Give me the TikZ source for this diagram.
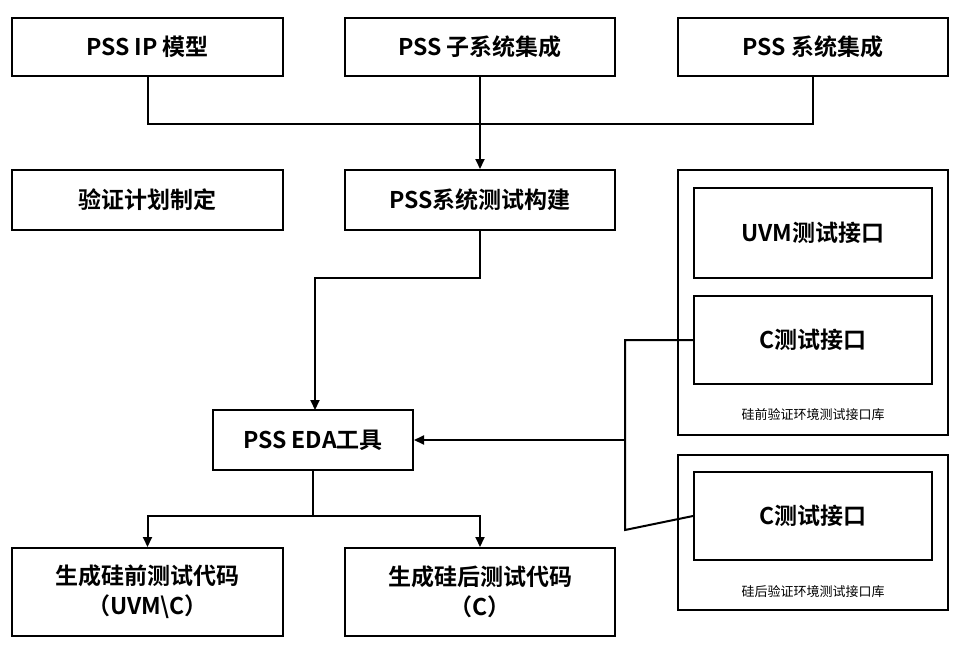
\documentclass[tikz,border=0pt]{standalone}
\usepackage{fontspec}
\setmainfont{Noto Sans CJK SC}[BoldFont={* Bold}]
\usetikzlibrary{arrows.meta}
\begin{document}
\begin{tikzpicture}[x=1pt,y=-1pt,
  box/.style={draw,line width=2pt,inner sep=0pt,align=center,font=\bfseries\fontsize{23}{30}\selectfont},
  lab/.style={font=\fontsize{13}{15}\selectfont,inner sep=0pt},
  ln/.style={line width=2pt},
  ar/.style={ln,-{Triangle[length=10pt,width=9pt]}}]
\useasboundingbox (0,0) rectangle (964,648);
\newcommand\bx[6]{\node[box,minimum width=#4-#2,minimum height=#5-#3] (#1) at ({(#2+#4)/2},{(#3+#5)/2}) {#6};}
\bx{ip}{12}{18}{283}{76}{PSS IP 模型}
\bx{sub}{345}{18}{615}{76}{PSS 子系统集成}
\bx{sys}{678}{18}{948}{76}{PSS 系统集成}
\bx{plan}{12}{170}{283}{230}{验证计划制定}
\bx{build}{345}{170}{615}{230}{PSS系统测试构建}
\bx{o1}{678}{170}{948}{435}{}
\bx{uvm}{694}{188}{932}{278}{UVM测试接口}
\bx{c1}{694}{296}{932}{384}{C测试接口}
\bx{o2}{678}{455}{948}{610}{}
\bx{c2}{694}{472}{932}{560}{C测试接口}
\bx{eda}{213}{410}{413}{470}{PSS EDA工具}
\bx{pre}{12}{548}{283}{636}{生成硅前测试代码\\（UVM\textbackslash C）}
\bx{post}{345}{548}{615}{636}{生成硅后测试代码\\（C）}
\node[lab] (l1) at (813,415) {硅前验证环境测试接口库};
\node[lab] (l2) at (813,592) {硅后验证环境测试接口库};
\coordinate (j1) at (480,124);
\coordinate (j2) at (625,440);
\draw[ln] (ip.south) |- (j1) -| (sys.south);
\draw[ar] (sub.south) -- (build.north);
\draw[ar] (build.south) |- (315,278) -- (315,410);
\draw[ln] (c1.west) -| (625,530) -- (c2.west);
\draw[ar] (j2) -- (eda.east);
\draw[ln] (eda.south) -- (313,516);
\draw[ar] (313,516) -| (pre.north);
\draw[ar] (313,516) -| (post.north);
\end{tikzpicture}
\end{document}
